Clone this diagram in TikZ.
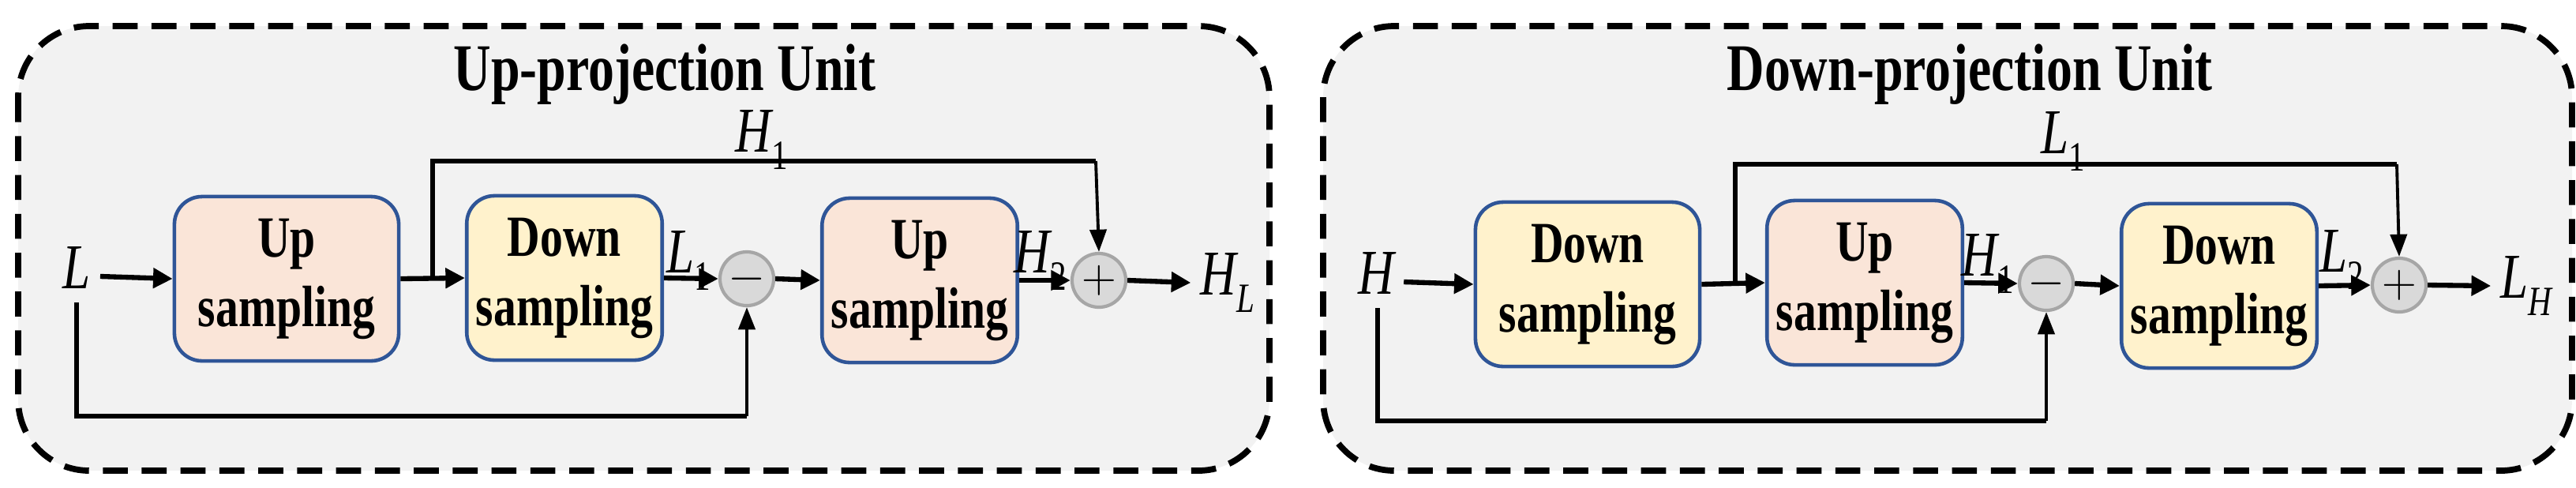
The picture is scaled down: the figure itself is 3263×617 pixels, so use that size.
\documentclass[tikz,border=0pt]{standalone}
\usepackage{fontspec}
\setmainfont{Liberation Serif}
\newfontfamily\cnd{Liberation Serif}[FakeStretch=0.78]
\usetikzlibrary{arrows.meta}
\definecolor{bg}{HTML}{F2F2F2}
\definecolor{upc}{HTML}{FAE5D8}
\definecolor{dnc}{HTML}{FFF2CC}
\definecolor{bd}{HTML}{2F5597}
\definecolor{cf}{HTML}{D9D9D9}
\definecolor{cb}{HTML}{A6A6A6}
\newcommand{\lbl}[2]{{\cnd\itshape #1}\raisebox{-6pt}{\cnd\fontsize{15}{15}\selectfont #2}}
\begin{document}
\begin{tikzpicture}[x=0.01cm,y=-0.01cm,
  panel/.style={draw=black,line width=2.2pt,dash pattern=on 9pt off 5pt,fill=bg,rounded corners=0.9cm},
  blk/.style={draw=bd,line width=1.3pt,rounded corners=0.35cm,minimum width=2.26cm,minimum height=2.08cm,align=center,font=\cnd\bfseries\fontsize{21}{25}\selectfont},
  up/.style={blk,fill=upc},
  dn/.style={blk,fill=dnc},
  op/.style={circle,draw=cb,line width=1.2pt,fill=cf,minimum size=0.68cm,inner sep=0pt,font=\fontsize{16}{16}\selectfont},
  ttl/.style={font=\cnd\bfseries\fontsize{24}{26}\selectfont},
  lab/.style={font=\fontsize{23}{24}\selectfont},
  ar/.style={line width=1.8pt,-{Triangle[length=7pt,width=7pt]}},
  ln/.style={line width=1.8pt},
  thin/.style={line width=1.1pt,-{Triangle[length=8pt,width=6pt]}}]
\useasboundingbox (0,0) rectangle (3263,617);
% ---------- left panel
\draw[panel] (23,33) rectangle (1608,596);
\node[ttl] (t1) at (842,94) {Up-projection Unit};
\node[up,minimum width=2.84cm] (a1) at (363,353) {Up\\sampling};
\node[dn,minimum width=2.30cm] (a2) at (715,352) {Down\\sampling};
\node[up,minimum width=2.24cm] (a3) at (1165,355) {Up\\sampling};
\node[op] (m1) at (946,353) {$-$};
\node[op] (p1) at (1392,355) {$+$};
\node[lab] (L) at (97,350) {\lbl{L}{}};
\node[lab] (HL) at (1555,358) {\lbl{H}{\itshape L}};
\node[lab] (lH1) at (965,177) {\lbl{H}{1}};
\node[lab] (lL1) at (872,330) {\lbl{L}{1}};
\node[lab] (lH2) at (1318,330) {\lbl{H}{2}};
\coordinate (b1) at (548,352);
\coordinate (lo1) at (97,383);
\draw[ar] (L.east) -- (a1.west);
\draw[ar] (a1.east) -- (a2.west);
\draw[ar] (a2.east) -- (m1.west);
\draw[ar] (m1.east) -- (a3.west);
\draw[ar] (a3.east) -- (p1.west);
\draw[ar] (p1.east) -- (HL.west);
\draw[ln] (b1) -- (548,204) -- (1388,204);
\draw[thin] (1388,204) -- (p1.north);
\draw[ln] (lo1) -- (97,527) -- (946,527);
\draw[thin] (946,527) -- (m1.south);
% ---------- right panel
\draw[panel] (1676,33) rectangle (3258,596);
\node[ttl] (t2) at (2495,94) {Down-projection Unit};
\node[dn,minimum width=2.84cm] (c1) at (2011,360) {Down\\sampling};
\node[up,minimum width=2.32cm] (c2) at (2362,358) {Up\\sampling};
\node[dn,minimum width=2.24cm] (c3) at (2811,362) {Down\\sampling};
\node[op] (m2) at (2592,359) {$-$};
\node[op] (p2) at (3039,361) {$+$};
\node[lab] (H) at (1743,357) {\lbl{H}{}};
\node[lab] (LH) at (3200,362) {\lbl{L}{\itshape H}};
\node[lab] (rL1) at (2613,179) {\lbl{L}{1}};
\node[lab] (rH1) at (2518,334) {\lbl{H}{1}};
\node[lab] (rL2) at (2966,329) {\lbl{L}{2}};
\coordinate (b2) at (2198,357);
\coordinate (lo2) at (1745,390);
\draw[ar] (H.east) -- (c1.west);
\draw[ar] (c1.east) -- (c2.west);
\draw[ar] (c2.east) -- (m2.west);
\draw[ar] (m2.east) -- (c3.west);
\draw[ar] (c3.east) -- (p2.west);
\draw[ar] (p2.east) -- (LH.west);
\draw[ln] (b2) -- (2198,208) -- (3036,208);
\draw[thin] (3036,208) -- (p2.north);
\draw[ln] (lo2) -- (1745,533) -- (2592,533);
\draw[thin] (2592,533) -- (m2.south);
\end{tikzpicture}
\end{document}
